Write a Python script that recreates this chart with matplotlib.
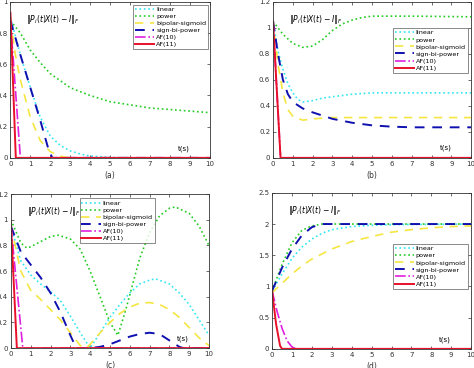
import matplotlib
matplotlib.use("Agg")
import matplotlib.pyplot as plt

# ---- data ----
labels = ["linear", "power", "bipolar-sigmoid", "sign-bi-power", "AF(10)", "AF(11)"]

# panel (a)
ta_lin = [0, 0.5, 1, 1.5, 2, 2.5, 3, 3.5, 4, 5, 6, 10]
ya_lin = [0.90, 0.66, 0.45, 0.26, 0.14, 0.08, 0.045, 0.025, 0.012, 0.003, 0, 0]
ta_pow = [0, 0.25, 0.5, 1, 1.5, 2, 3, 4, 5, 6, 7, 8, 9, 10]
ya_pow = [0.88, 0.84, 0.80, 0.69, 0.61, 0.54, 0.45, 0.40, 0.36, 0.34, 0.32, 0.31, 0.30, 0.29]
ta_sig = [0, 0.25, 0.5, 1, 1.5, 2, 2.5, 3, 10]
ya_sig = [0.88, 0.66, 0.50, 0.26, 0.11, 0.04, 0.01, 0, 0]
ta_sbp = [0, 0.5, 1, 1.5, 1.9, 2.1, 10]
ya_sbp = [0.88, 0.66, 0.45, 0.24, 0.06, 0, 0]
ta_af10 = [0, 0.5, 10]
ya_af10 = [0.88, 0, 0]
ta_af11 = [0, 0.27, 10]
ya_af11 = [0.93, 0, 0]

# panel (b)
tb_lin = [0, 0.25, 0.5, 0.75, 1, 1.25, 1.5, 2, 2.5, 3, 4, 5, 6, 10]
yb_lin = [1.05, 0.82, 0.68, 0.57, 0.50, 0.45, 0.43, 0.44, 0.46, 0.47, 0.49, 0.50, 0.50, 0.50]
tb_pow = [0, 0.5, 1, 1.5, 2, 2.5, 3, 3.5, 4, 4.5, 5, 6, 7, 10]
yb_pow = [1.05, 0.95, 0.88, 0.85, 0.86, 0.91, 0.98, 1.03, 1.06, 1.08, 1.09, 1.09, 1.09, 1.085]
tb_sig = [0, 0.25, 0.5, 0.75, 1, 1.5, 2, 3, 10]
yb_sig = [1.05, 0.72, 0.50, 0.37, 0.32, 0.29, 0.30, 0.31, 0.31]
tb_sbp = [0, 0.25, 0.5, 0.75, 1, 1.5, 2, 3, 4, 5, 6, 7, 10]
yb_sbp = [1.05, 0.80, 0.60, 0.49, 0.43, 0.38, 0.35, 0.30, 0.27, 0.25, 0.24, 0.235, 0.235]
tb_af10 = [0, 0.38, 10]
yb_af10 = [1.05, 0, 0]
tb_af11 = [0, 0.38, 10]
yb_af11 = [1.05, 0, 0]

# panel (c)
tc_lin = [0, 0.5, 1, 1.5, 2, 2.5, 3, 3.5, 4, 4.5, 5, 5.5, 6, 6.5, 7, 7.3, 8, 8.5, 9, 9.5, 10]
yc_lin = [0.95, 0.68, 0.57, 0.50, 0.44, 0.37, 0.25, 0.12, 0.0, 0.12, 0.24, 0.34, 0.43, 0.50,
          0.53, 0.54, 0.50, 0.43, 0.34, 0.22, 0.10]
tc_pow = [0, 0.5, 0.8, 1, 1.5, 2, 2.4, 3, 3.5, 4, 4.5, 5, 5.4, 5.8, 6.5, 7, 7.5, 8, 8.3, 9, 9.5, 10]
yc_pow = [1.0, 0.82, 0.78, 0.79, 0.83, 0.87, 0.88, 0.85, 0.77, 0.60, 0.40, 0.20, 0.10, 0.30,
          0.70, 0.90, 1.03, 1.09, 1.10, 1.05, 0.95, 0.80]
tc_sig = [0, 0.5, 1, 1.5, 2, 2.5, 3, 3.5, 3.8, 4, 4.5, 5, 5.5, 6, 6.5, 7, 7.5, 8, 8.5, 9, 9.5, 10]
yc_sig = [0.95, 0.60, 0.45, 0.38, 0.30, 0.22, 0.12, 0.02, 0.0, 0.03, 0.12, 0.20, 0.27, 0.32,
          0.35, 0.355, 0.34, 0.30, 0.24, 0.16, 0.08, 0.02]
tc_sbp = [0, 0.5, 1, 1.5, 2, 2.5, 3, 3.3, 4, 4.5, 5, 5.5, 6, 6.5, 7, 7.5, 8, 8.5, 8.7, 10]
yc_sbp = [0.95, 0.75, 0.65, 0.55, 0.43, 0.28, 0.10, 0.0, 0.0, 0.01, 0.03, 0.06, 0.09, 0.11,
          0.12, 0.11, 0.06, 0.01, 0.0, 0.0]
tc_af10 = [0, 0.6, 10]
yc_af10 = [0.95, 0, 0]
tc_af11 = [0, 0.3, 10]
yc_af11 = [0.98, 0, 0]

# panel (d)
td_lin = [0, 0.5, 1, 1.5, 2, 2.5, 3, 4, 5, 6, 10]
yd_lin = [0.93, 1.20, 1.45, 1.63, 1.76, 1.85, 1.91, 1.96, 1.98, 1.99, 2.0]
td_pow = [0, 0.5, 1, 1.5, 2, 2.5, 10]
yd_pow = [0.93, 1.35, 1.70, 1.90, 1.97, 2.0, 2.0]
td_sig = [0, 0.5, 1, 1.5, 2, 3, 4, 5, 6, 7, 8, 9, 10]
yd_sig = [0.90, 1.05, 1.20, 1.33, 1.44, 1.60, 1.72, 1.80, 1.87, 1.91, 1.94, 1.96, 1.97]
td_sbp = [0, 0.5, 1, 1.5, 2, 2.5, 10]
yd_sbp = [0.93, 1.30, 1.60, 1.82, 1.95, 2.0, 2.0]
td_af10 = [0, 0.25, 0.5, 0.75, 1, 1.2, 10]
yd_af10 = [0.93, 0.60, 0.33, 0.13, 0.03, 0, 0]
td_af11 = [0, 0.2, 0.4, 0.5, 10]
yd_af11 = [0.93, 0.40, 0.05, 0, 0]

styles = [
    dict(color="#33e6f0", linestyle=":", linewidth=1.2),
    dict(color="#22cc22", linestyle=":", linewidth=1.2),
    dict(color="#f5e642", linestyle=(0, (5, 4)), linewidth=1.2),
    dict(color="#1010b0", linestyle=(0, (5, 4)), linewidth=1.4),
    dict(color="#e020e0", linestyle="-.", linewidth=1.2),
    dict(color="#e8102a", linestyle="-", linewidth=1.4),
]

panels = [
    ([0.022, 0.571, 0.42, 0.424], 1.0, [0, 0.2, 0.4, 0.6, 0.8, 1],
     [(ta_lin, ya_lin), (ta_pow, ya_pow), (ta_sig, ya_sig), (ta_sbp, ya_sbp), (ta_af10, ya_af10), (ta_af11, ya_af11)],
     "(a)", "upper right", (1.0, 0.99), 0.04),
    ([0.576, 0.571, 0.418, 0.424], 1.2, [0, 0.2, 0.4, 0.6, 0.8, 1, 1.2],
     [(tb_lin, yb_lin), (tb_pow, yb_pow), (tb_sig, yb_sig), (tb_sbp, yb_sbp), (tb_af10, yb_af10), (tb_af11, yb_af11)],
     "(b)", "upper right", (0.99, 0.84), 0.05),
    ([0.023, 0.054, 0.418, 0.4185], 1.2, [0, 0.2, 0.4, 0.6, 0.8, 1, 1.2],
     [(tc_lin, yc_lin), (tc_pow, yc_pow), (tc_sig, yc_sig), (tc_sbp, yc_sbp), (tc_af10, yc_af10), (tc_af11, yc_af11)],
     "(c)", "upper left", (0.34, 0.98), 0.05),
    ([0.574, 0.052, 0.42, 0.424], 2.5, [0, 0.5, 1, 1.5, 2, 2.5],
     [(td_lin, yd_lin), (td_pow, yd_pow), (td_sig, yd_sig), (td_sbp, yd_sbp), (td_af10, yd_af10), (td_af11, yd_af11)],
     "(d)", "upper right", (0.99, 0.68), 0.1),
]

plt.rcParams["font.family"] = "DejaVu Sans"
fig = plt.figure(figsize=(4.74, 3.68), dpi=100)

for rect, ymax, yticks, series, name, loc, anchor, tsy in panels:
    ax = fig.add_axes(rect)
    for (t, y), st, lab in zip(series, styles, labels):
        ax.plot(t, y, label=lab, **st)
    ax.set_xlim(0, 10)
    ax.set_ylim(0, ymax)
    ax.set_xticks(range(0, 11))
    ax.set_yticks(yticks)
    ax.set_yticklabels([f"{v:g}" for v in yticks])
    ax.tick_params(direction="in", labelsize=5, length=2, width=0.5, pad=2,
                   top=True, right=True, colors="#333333")
    for sp in ax.spines.values():
        sp.set_linewidth(0.6)
        sp.set_color("#333333")
    ax.set_xlabel(name, fontsize=5.5, labelpad=3, color="#333333")
    ax.text(0.08, 0.93, r"$\|P_i(t)X(t)-I\|_F$", transform=ax.transAxes,
            fontsize=5.5, va="top", ha="left")
    ax.text(8.4, tsy, "t(s)", fontsize=5, ha="left", va="bottom")
    leg = ax.legend(loc=loc, bbox_to_anchor=anchor, fontsize=4.6, frameon=True,
                    fancybox=False, edgecolor="#333333", handlelength=3.0,
                    handletextpad=0.3, borderpad=0.3, labelspacing=0.25,
                    borderaxespad=0.2)
    leg.get_frame().set_linewidth(0.5)

fig.savefig("out.png", dpi=100)
